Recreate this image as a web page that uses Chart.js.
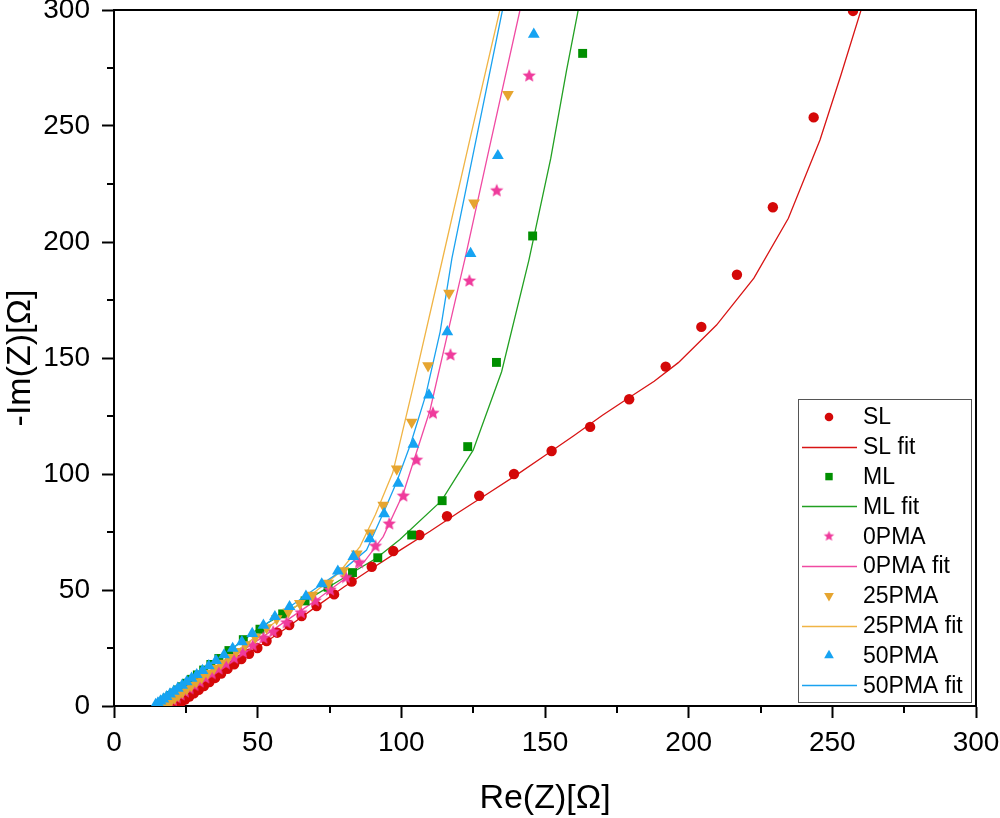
<!DOCTYPE html>
<html>
<head>
<meta charset="utf-8">
<script src="https://cdn.jsdelivr.net/npm/chart.js@4/dist/chart.umd.min.js"></script>
<style>
html,body{margin:0;padding:0;background:#fff}
#wrap{width:1000px;height:818px;position:relative}
</style>
</head>
<body>
<div id="wrap"><canvas id="c"></canvas></div>
<script>
// ---------- axis ticks ----------
const xTickValues = [0, 50, 100, 150, 200, 250, 300];
const yTickValues = [0, 50, 100, 150, 200, 250, 300];
const minorTickValues = [25, 75, 125, 175, 225, 275];
const xTitle = 'Re(Z)[Ω]';
const yTitle = '-Im(Z)[Ω]';

// ---------- series labels ----------
const seriesLabels = ['SL', 'SL fit', 'ML', 'ML fit', '0PMA', '0PMA fit', '25PMA', '25PMA fit', '50PMA', '50PMA fit'];

// ---------- SL ----------
const slX = [22.0, 23.3, 24.7, 26.2, 27.8, 29.5, 31.3, 33.2, 35.2, 37.3, 39.5, 41.8, 44.3, 47.0, 49.9, 53.1, 56.8, 61.0, 65.3, 70.5, 76.6, 82.7, 89.7, 97.2, 106.3, 115.9, 127.1, 139.2, 152.3, 165.7, 179.3, 192.0, 204.4, 216.8, 229.3, 243.5, 257.2];
const slY = [0.5, 1.6, 2.8, 4.1, 5.5, 7.0, 8.6, 10.3, 12.1, 14.0, 16.0, 18.0, 20.2, 22.5, 25.0, 28.0, 31.6, 34.9, 38.8, 43.1, 48.1, 53.6, 60.0, 66.8, 73.7, 81.8, 90.6, 100.0, 109.9, 120.3, 132.2, 146.3, 163.4, 185.9, 215.0, 253.7, 299.6];
const slFitX = [19.8, 25, 30, 40, 50, 60, 70, 80, 90, 100, 110, 120, 130, 140, 150, 160, 170, 180, 188, 196.4, 209.7, 222.7, 234.7, 245.7, 253, 262];
const slFitY = [0, 4.0, 8.3, 16.8, 25.2, 33.6, 42.5, 51.3, 59.5, 67.5, 75.3, 83.5, 91.5, 99.5, 108, 116.5, 125.3, 133.5, 140, 148, 164.2, 184.4, 210.2, 244, 272, 308];

// ---------- ML ----------
const mlX = [16.6, 17.5, 18.5, 19.6, 20.8, 22.1, 23.6, 25.2, 27.0, 29.0, 31.2, 33.7, 36.5, 40.0, 45.0, 50.8, 58.7, 66.5, 74.5, 83.0, 91.8, 103.6, 114.2, 123.1, 133.1, 145.7, 163.1];
const mlY = [1.6, 2.5, 3.4, 4.5, 5.6, 6.9, 8.3, 9.8, 11.5, 13.4, 15.5, 17.9, 20.5, 23.9, 28.6, 33.1, 39.7, 45.3, 51.2, 57.5, 63.9, 73.7, 88.5, 111.8, 148.1, 202.6, 281.3];
const mlFitX = [15.4, 20, 30, 40, 50.2, 60, 70, 80, 91.4, 99.5, 114, 125, 134.9, 144.4, 152, 157.5, 162.5];
const mlFitY = [0.5, 4.9, 14.3, 23.6, 33.4, 40.5, 47.8, 55.3, 63.8, 71.8, 88.5, 110.3, 144.1, 192.2, 236, 274, 306];

// ---------- 0PMA ----------
const pma0X = [18.2, 19.3, 20.5, 21.8, 23.2, 24.7, 26.3, 28.0, 29.8, 31.8, 34.0, 36.4, 39.0, 41.8, 44.9, 48.3, 52.0, 55.4, 60.1, 65.1, 70.0, 75.2, 80.7, 85.3, 91.0, 95.8, 100.7, 105.3, 111.0, 117.1, 123.7, 133.2, 144.5];
const pma0Y = [0.6, 1.5, 2.5, 3.6, 4.8, 6.1, 7.5, 8.9, 10.4, 12.1, 14.0, 16.0, 18.2, 20.6, 23.2, 26.1, 29.3, 32.0, 35.9, 40.2, 45.3, 50.0, 55.4, 61.8, 68.9, 78.5, 90.5, 106.0, 126.2, 151.3, 183.2, 222.1, 271.6];
const pma0FitX = [17, 30, 40, 50, 60, 70, 80, 87, 93.7, 100.7, 110, 116, 122.5, 130, 141.3, 143];
const pma0FitY = [0.5, 11.3, 19.8, 28.3, 36.8, 45.3, 54.5, 62, 73, 91.7, 127.6, 160, 194.7, 237, 300, 310];

// ---------- 25PMA ----------
const pma25X = [17.8, 18.8, 19.9, 21.1, 22.4, 23.8, 25.3, 26.9, 28.6, 30.5, 32.6, 34.8, 37.2, 39.8, 42.6, 45.7, 49.2, 53.1, 56.6, 60.7, 64.7, 69.0, 74.6, 79.8, 84.5, 89.1, 93.7, 98.4, 103.6, 109.3, 116.6, 125.3, 137.1];
const pma25Y = [0.5, 1.4, 2.4, 3.5, 4.7, 6.0, 7.4, 8.9, 10.5, 12.3, 14.2, 16.3, 18.5, 20.9, 23.5, 26.4, 29.7, 33.8, 37.6, 40.6, 44.2, 47.8, 52.9, 58.3, 65.6, 74.6, 86.6, 102.2, 122.3, 146.7, 177.9, 216.8, 263.6];
const pma25FitX = [17, 30, 40, 50, 60, 70, 78, 85.6, 91, 97, 104, 114.4, 124, 134.3, 136];
const pma25FitY = [0.3, 12, 21.2, 30.5, 39.8, 49.2, 57.0, 68.7, 82.5, 100.5, 137, 193, 245, 300, 309];

// ---------- 50PMA ----------
const pma50X = [14.5, 15.3, 16.2, 17.2, 18.3, 19.5, 20.8, 22.2, 23.7, 25.3, 27.0, 28.8, 30.8, 33.0, 35.5, 38.3, 41.3, 44.5, 48.1, 52.0, 56.0, 61.1, 66.8, 72.3, 77.9, 83.3, 89.0, 94.0, 98.9, 104.2, 109.6, 116.0, 124.1, 133.6, 146.1];
const pma50Y = [0.6, 1.3, 2.1, 3.0, 4.0, 5.1, 6.3, 7.6, 8.9, 10.4, 11.9, 13.5, 15.3, 17.3, 19.6, 22.0, 24.8, 27.7, 31.2, 34.8, 38.5, 42.8, 47.3, 52.6, 58.1, 64.4, 72.1, 82.8, 96.0, 112.8, 134.0, 161.3, 195.0, 237.2, 289.5];
const pma50FitX = [14, 20, 30, 40, 50, 60, 70, 80, 87.9, 93.5, 98.2, 103.2, 108.5, 113.5, 117.6, 126, 135.2, 137];
const pma50FitY = [0.3, 5.6, 14.7, 23.8, 32.8, 41.7, 50.5, 59, 67.2, 82.5, 96, 112.8, 134, 161.3, 192.9, 244, 300, 311];

// ---------- styles ----------
const COLORS = {
  SL: '#d40808', ML: '#008f00', PMA0: '#ef3b9c', PMA25: '#e6a530', PMA50: '#16a3f2'
};
const LINE_COLORS = {
  SL: '#d81414', ML: '#22a022', PMA0: '#f04aa2', PMA25: '#f0b445', PMA50: '#1aa2f0'
};
const FONT = '"Liberation Sans", Arial, Helvetica, sans-serif';

function starCanvas(r, color) {
  const s = Math.ceil(r * 2 + 2);
  const c = document.createElement('canvas');
  c.width = s; c.height = s;
  const g = c.getContext('2d');
  g.fillStyle = color;
  g.beginPath();
  for (let i = 0; i < 10; i++) {
    const a = -Math.PI / 2 + i * Math.PI / 5;
    const rr = (i % 2) ? r * 0.45 : r;
    g.lineTo(s / 2 + rr * Math.cos(a), s / 2 + rr * Math.sin(a));
  }
  g.closePath();
  g.fill();
  return c;
}
const starImg = starCanvas(7, COLORS.PMA0);
const starImgLegend = starCanvas(5.5, COLORS.PMA0);

const zip = (xs, ys) => xs.map((x, i) => ({ x: x, y: ys[i] }));

function pointSet(label, xs, ys, color, style, radius, rotation, order) {
  return {
    label: label, data: zip(xs, ys), showLine: false,
    backgroundColor: color, borderColor: color,
    pointBackgroundColor: color, pointBorderColor: color, pointBorderWidth: 0,
    pointStyle: style, pointRadius: radius, pointHoverRadius: radius,
    pointRotation: rotation, order: order, clip: 0,
    _legendKind: 'point', _legendStyle: style, _legendRot: rotation
  };
}
function lineSet(label, xs, ys, color, order) {
  return {
    label: label, data: zip(xs, ys), showLine: true,
    borderColor: color, backgroundColor: color, borderWidth: 1.3,
    pointRadius: 0, pointHoverRadius: 0, tension: 0, fill: false,
    order: order, clip: 0, _legendKind: 'line'
  };
}

const datasets = [
  pointSet(seriesLabels[0], slX, slY, COLORS.SL, 'circle', 5.2, 0, 5),
  lineSet(seriesLabels[1], slFitX, slFitY, LINE_COLORS.SL, 10),
  pointSet(seriesLabels[2], mlX, mlY, COLORS.ML, 'rect', 6.3, 0, 4),
  lineSet(seriesLabels[3], mlFitX, mlFitY, LINE_COLORS.ML, 9),
  pointSet(seriesLabels[4], pma0X, pma0Y, COLORS.PMA0, starImg, 7, 0, 3),
  lineSet(seriesLabels[5], pma0FitX, pma0FitY, LINE_COLORS.PMA0, 8),
  pointSet(seriesLabels[6], pma25X, pma25Y, COLORS.PMA25, 'triangle', 6.8, 180, 2),
  lineSet(seriesLabels[7], pma25FitX, pma25FitY, LINE_COLORS.PMA25, 7),
  pointSet(seriesLabels[8], pma50X, pma50Y, COLORS.PMA50, 'triangle', 6.8, 0, 1),
  lineSet(seriesLabels[9], pma50FitX, pma50FitY, LINE_COLORS.PMA50, 6)
];

// ---------- plugins ----------
const framePlugin = {
  id: 'frame',
  afterDraw(chart) {
    const { ctx, chartArea: a, scales } = chart;
    ctx.save();
    ctx.strokeStyle = '#000';
    ctx.lineWidth = 2;
    ctx.beginPath();
    ctx.moveTo(a.left, a.top);
    ctx.lineTo(a.right, a.top);
    ctx.lineTo(a.right, a.bottom);
    ctx.stroke();
    // minor ticks
    ctx.beginPath();
    minorTickValues.forEach(v => {
      const px = Math.round(scales.x.getPixelForValue(v));
      ctx.moveTo(px, a.bottom);
      ctx.lineTo(px, a.bottom + 7);
      const py = Math.round(scales.y.getPixelForValue(v));
      ctx.moveTo(a.left, py);
      ctx.lineTo(a.left - 7, py);
    });
    ctx.stroke();
    ctx.restore();
  }
};

function drawMarker(ctx, style, rot, x, y, color) {
  ctx.save();
  ctx.fillStyle = color;
  if (style instanceof HTMLCanvasElement) {
    ctx.drawImage(style, x - style.width / 2, y - style.height / 2);
  } else if (style === 'circle') {
    ctx.beginPath(); ctx.arc(x, y, 4.3, 0, Math.PI * 2); ctx.fill();
  } else if (style === 'rect') {
    ctx.fillRect(x - 3.7, y - 3.7, 7.4, 7.4);
  } else if (style === 'triangle') {
    const r = 5.6;
    ctx.translate(x, y);
    ctx.rotate(rot * Math.PI / 180);
    ctx.beginPath();
    for (let i = 0; i < 3; i++) {
      const a = i * 2 * Math.PI / 3;
      ctx.lineTo(Math.sin(a) * r, -Math.cos(a) * r);
    }
    ctx.closePath(); ctx.fill();
  }
  ctx.restore();
}

const legendPlugin = {
  id: 'customLegend',
  afterDraw(chart) {
    const { ctx, chartArea: a } = chart;
    const w = 173, h = 303;
    const left = a.right - 5 - w, top = a.bottom - 4 - h;
    ctx.save();
    ctx.fillStyle = '#fff';
    ctx.fillRect(left, top, w, h);
    ctx.strokeStyle = '#555';
    ctx.lineWidth = 1;
    ctx.strokeRect(left + 0.5, top + 0.5, w, h);
    ctx.font = '23px ' + FONT;
    ctx.textBaseline = 'middle';
    ctx.textAlign = 'left';
    chart.data.datasets.forEach((ds, i) => {
      const y = top + 18 + i * 29.8;
      if (ds._legendKind === 'line') {
        ctx.strokeStyle = ds.borderColor;
        ctx.lineWidth = 1.5;
        ctx.beginPath();
        ctx.moveTo(left + 4, Math.round(y) + 0.5);
        ctx.lineTo(left + 59, Math.round(y) + 0.5);
        ctx.stroke();
      } else {
        const st = ds._legendStyle instanceof HTMLCanvasElement ? starImgLegend : ds._legendStyle;
        drawMarker(ctx, st, ds._legendRot, left + 31, y, ds.backgroundColor);
      }
      ctx.fillStyle = '#000';
      ctx.fillText(ds.label, left + 65, y + 1);
    });
    ctx.restore();
  }
};

const tickFont = { family: FONT, size: 28 };
const titleFont = { family: FONT, size: 34, lineHeight: 1 };

new Chart(document.getElementById('c'), {
  type: 'scatter',
  data: { datasets: datasets },
  options: {
    responsive: true,
    maintainAspectRatio: false,
    animation: false,
    events: [],
    layout: { padding: { top: 10, right: 24, bottom: 0, left: 0 } },
    plugins: { legend: { display: false }, tooltip: { enabled: false } },
    scales: {
      x: {
        type: 'linear', min: 0, max: 300,
        afterBuildTicks: s => { s.ticks = xTickValues.map(v => ({ value: v })); },
        afterFit: s => { s.height = 112; s.paddingLeft = 0; s.paddingRight = 0; },
        ticks: { font: tickFont, color: '#000', padding: 8, maxRotation: 0, autoSkip: false },
        grid: { drawOnChartArea: false, tickLength: 12, tickWidth: 2, tickColor: '#000' },
        border: { display: true, color: '#000', width: 2 },
        title: { display: true, text: xTitle, font: titleFont, color: '#000', padding: { top: 0, bottom: 2 } }
      },
      y: {
        type: 'linear', min: 0, max: 300,
        afterBuildTicks: s => { s.ticks = yTickValues.map(v => ({ value: v })); },
        afterFit: s => { s.width = 114; s.paddingTop = 0; s.paddingBottom = 0; },
        ticks: { font: tickFont, color: '#000', padding: 12, autoSkip: false },
        grid: { drawOnChartArea: false, tickLength: 12, tickWidth: 2, tickColor: '#000' },
        border: { display: true, color: '#000', width: 2 },
        title: { display: true, text: yTitle, font: titleFont, color: '#000', padding: { top: 4, bottom: 0 } }
      }
    }
  },
  plugins: [framePlugin, legendPlugin]
});
</script>
</body>
</html>
